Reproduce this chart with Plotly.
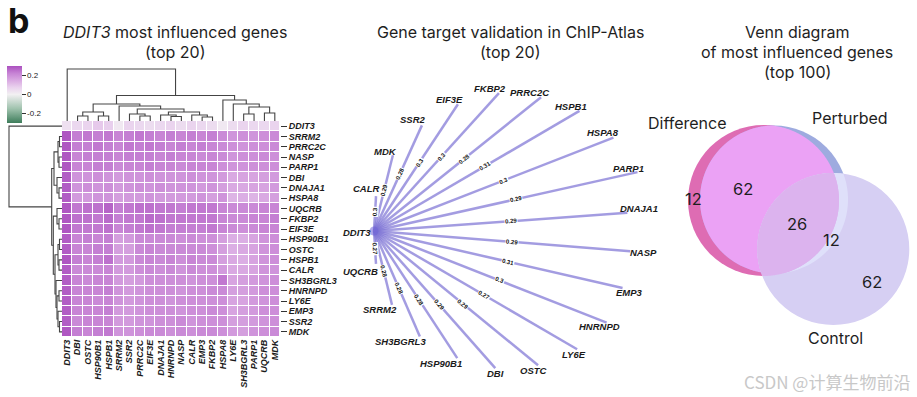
import math
import plotly.graph_objects as go

W, H = 917, 397

# ---------------- DATA ----------------
col_genes = ["DDIT3", "DBI", "OSTC", "HSP90B1", "HSPB1", "SRRM2", "SSR2", "PRRC2C", "EIF3E", "DNAJA1",
             "HNRNPD", "NASP", "CALR", "EMP3", "FKBP2", "HSPA8", "LY6E", "SH3BGRL3", "PARP1", "UQCRB", "MDK"]
row_genes = ["DDIT3", "SRRM2", "PRRC2C", "NASP", "PARP1", "DBI", "DNAJA1", "HSPA8", "UQCRB", "FKBP2",
             "EIF3E", "HSP90B1", "OSTC", "HSPB1", "CALR", "SH3BGRL3", "HNRNPD", "LY6E", "EMP3", "SSR2", "MDK"]

influence = [
    [0.04, 0.06, 0.07, 0.09, 0.08, 0.02, 0.07, 0.06, 0.05, 0.06, 0.07, 0.05, 0.07, 0.06, 0.05, 0.02, 0.05, 0.07, 0.06, 0.06, 0.07],
    [0.29, 0.23, 0.24, 0.23, 0.24, 0.22, 0.23, 0.24, 0.23, 0.22, 0.23, 0.22, 0.23, 0.22, 0.23, 0.21, 0.19, 0.20, 0.19, 0.20, 0.21],
    [0.29, 0.23, 0.23, 0.24, 0.23, 0.22, 0.24, 0.23, 0.24, 0.23, 0.22, 0.23, 0.22, 0.23, 0.22, 0.21, 0.20, 0.19, 0.20, 0.20, 0.21],
    [0.29, 0.22, 0.23, 0.23, 0.23, 0.22, 0.23, 0.23, 0.23, 0.22, 0.23, 0.22, 0.22, 0.21, 0.22, 0.21, 0.19, 0.20, 0.20, 0.21, 0.20],
    [0.29, 0.22, 0.22, 0.23, 0.23, 0.21, 0.22, 0.22, 0.23, 0.22, 0.22, 0.21, 0.22, 0.22, 0.22, 0.20, 0.19, 0.19, 0.20, 0.20, 0.20],
    [0.28, 0.19, 0.19, 0.20, 0.19, 0.18, 0.19, 0.19, 0.20, 0.19, 0.19, 0.19, 0.20, 0.19, 0.19, 0.18, 0.15, 0.16, 0.16, 0.17, 0.18],
    [0.28, 0.19, 0.20, 0.19, 0.20, 0.18, 0.19, 0.20, 0.19, 0.20, 0.19, 0.19, 0.19, 0.18, 0.19, 0.17, 0.15, 0.15, 0.16, 0.16, 0.18],
    [0.28, 0.18, 0.18, 0.19, 0.19, 0.17, 0.18, 0.18, 0.19, 0.18, 0.18, 0.18, 0.18, 0.19, 0.17, 0.19, 0.13, 0.14, 0.13, 0.15, 0.17],
    [0.29, 0.24, 0.25, 0.25, 0.27, 0.23, 0.24, 0.25, 0.25, 0.24, 0.24, 0.23, 0.24, 0.24, 0.24, 0.22, 0.21, 0.21, 0.21, 0.22, 0.22],
    [0.29, 0.25, 0.25, 0.24, 0.26, 0.23, 0.24, 0.24, 0.26, 0.25, 0.24, 0.24, 0.24, 0.24, 0.24, 0.22, 0.21, 0.21, 0.22, 0.22, 0.23],
    [0.29, 0.24, 0.24, 0.24, 0.25, 0.22, 0.23, 0.24, 0.25, 0.24, 0.23, 0.23, 0.23, 0.23, 0.24, 0.22, 0.21, 0.20, 0.21, 0.22, 0.22],
    [0.28, 0.22, 0.23, 0.22, 0.23, 0.17, 0.18, 0.21, 0.21, 0.21, 0.21, 0.20, 0.21, 0.20, 0.20, 0.17, 0.14, 0.14, 0.16, 0.19, 0.20],
    [0.28, 0.22, 0.22, 0.23, 0.23, 0.17, 0.17, 0.21, 0.22, 0.21, 0.21, 0.21, 0.21, 0.21, 0.20, 0.17, 0.14, 0.15, 0.16, 0.19, 0.20],
    [0.29, 0.23, 0.22, 0.23, 0.25, 0.18, 0.18, 0.21, 0.22, 0.21, 0.22, 0.20, 0.22, 0.21, 0.21, 0.17, 0.15, 0.14, 0.16, 0.19, 0.20],
    [0.28, 0.21, 0.21, 0.21, 0.22, 0.18, 0.18, 0.20, 0.21, 0.20, 0.21, 0.19, 0.21, 0.20, 0.20, 0.18, 0.15, 0.15, 0.16, 0.19, 0.19],
    [0.28, 0.22, 0.21, 0.22, 0.22, 0.18, 0.17, 0.18, 0.20, 0.20, 0.20, 0.20, 0.19, 0.20, 0.20, 0.24, 0.16, 0.17, 0.18, 0.19, 0.20],
    [0.28, 0.22, 0.22, 0.22, 0.23, 0.19, 0.18, 0.19, 0.20, 0.20, 0.20, 0.19, 0.20, 0.20, 0.21, 0.21, 0.17, 0.17, 0.18, 0.20, 0.20],
    [0.28, 0.22, 0.22, 0.21, 0.22, 0.19, 0.18, 0.19, 0.20, 0.20, 0.19, 0.20, 0.20, 0.20, 0.20, 0.20, 0.16, 0.16, 0.18, 0.19, 0.20],
    [0.28, 0.22, 0.22, 0.22, 0.23, 0.18, 0.18, 0.19, 0.20, 0.20, 0.20, 0.19, 0.20, 0.20, 0.21, 0.20, 0.16, 0.17, 0.18, 0.20, 0.20],
    [0.28, 0.21, 0.22, 0.22, 0.22, 0.18, 0.18, 0.19, 0.19, 0.20, 0.20, 0.21, 0.19, 0.20, 0.20, 0.20, 0.17, 0.17, 0.18, 0.19, 0.20],
    [0.29, 0.23, 0.22, 0.23, 0.24, 0.19, 0.19, 0.20, 0.21, 0.21, 0.20, 0.21, 0.20, 0.21, 0.21, 0.20, 0.18, 0.17, 0.19, 0.20, 0.21],
]

# dendrogram linkage trees: (height, left, right), leaves = positions
col_tree = (52, 0, (25.5, (17, (9, (5, 1, 2), (5, 3, 4)),
                               (15, 5, (12, (7, 6, (5, 7, 8)),
                                        (9, (6, 9, (4.5, 10, 11)), (6, 12, (4, 13, 14)))))),
                   (21, 15, (17, 16, (14, (7, 17, 18), (8, 19, 20))))))
row_tree = (53, 0, (10.3, (8, (4, (2.5, 1, 2), (3, 3, 4)), (5, 5, (3, 6, 7))),
                    (8.7, (5, 8, (3, 9, 10)),
                     (7, (4, (2.5, 11, 12), (3, 13, 14)),
                      (6, 15, (5, (3, 16, 17), (4, 18, (2.5, 19, 20))))))))

net_source = "DDIT3"
net_targets = ["UQCRB", "SRRM2", "SH3BGRL3", "HSP90B1", "DBI", "OSTC", "LY6E", "HNRNPD", "EMP3", "NASP",
               "DNAJA1", "PARP1", "HSPA8", "HSPB1", "PRRC2C", "FKBP2", "EIF3E", "SSR2", "MDK", "CALR"]
net_weights = [0.27, 0.28, 0.28, 0.28, 0.29, 0.29, 0.27, 0.3, 0.31, 0.29,
               0.29, 0.29, 0.3, 0.31, 0.28, 0.3, 0.3, 0.28, 0.29, 0.3]

venn_sets = ["Difference", "Perturbed", "Control"]
venn_regions = {"100": 12, "110": 62, "111": 26, "011": 12, "001": 62}

# ---------------- LAYOUT / STYLE ----------------
HM_X0, HM_X1, HM_Y0, HM_Y1 = 62, 280, 121, 337
def px_x(v): return v / W
def px_y(v): return 1 - v / H

# network layout (polar, pixels around centre)
net_center = (374, 231)
net_angle = [-86.5, -76.3, -66.5, -56.8, -48.5, -39.3, -30.2, -21.5, -12.9, -4.5,
             4.1, 12.6, 21.3, 30.3, 38.7, 47.8, 56.5, 65.6, 76.0, 86.7]
net_radius = [33, 76, 115, 152, 183, 212, 235, 250, 255, 257, 254, 270, 257, 238, 214, 186, 152, 116, 78, 35]
lab_dx = [-16, -12, -19, -16, 0, -5, -3, -7, 7, 13, 12, -9, -10, -8, -12, -9, -8, -9, -7, -10]
lab_dy = [8, 5, 5, 5, 5, 5, 5, 4, 5, 1, -4, -4, -5, -4, -5, -5, -5, -6, -4, -8]

# venn circles (pixels)
venn_circles = [(763.5, 200.5, 75.5), (774, 199.5, 74), (833.3, 249, 76)]
venn_colors = {"100": "#de6cb3", "010": "#9eabdf", "110": "#eba2f5", "001": "#d6cff3",
               "011": "#dfe0fa", "101": "#dcb3ee", "111": "#dcb3ee"}
venn_num_pos = {"100": (693, 199), "110": (743, 189), "111": (797, 224), "011": (831, 240), "001": (872, 282)}
venn_name_pos = [(687, 123), (850, 118), (835, 338)]

colorscale = [[0.0, "#3e7d5b"], [0.25, "#9fc2ad"], [0.5, "#f2f0f2"], [0.62, "#ead3ee"],
              [0.75, "#d9a9e2"], [0.87, "#c784d5"], [1.0, "#ab50bf"]]

fig = go.Figure()

# heatmap
fig.add_trace(go.Heatmap(
    z=influence, x=col_genes, y=row_genes, zmin=-0.3, zmax=0.3, colorscale=colorscale,
    xgap=1, ygap=1, hoverinfo="skip",
    colorbar=dict(x=px_x(7), xanchor="left", y=px_y(66), yanchor="top", len=57 / H, lenmode="fraction",
                  thickness=15, thicknessmode="pixels", tickvals=[-0.2, 0, 0.2], ticktext=["-0.2", "0", "0.2"],
                  ticks="outside", ticklen=4, tickcolor="#333", tickfont=dict(size=8, color="#222", family="Liberation Sans"),
                  outlinewidth=0, xpad=0, ypad=0)))

def dendro(node, segs):
    if isinstance(node, int):
        return float(node), 0.0
    h, a, b = node
    xa, ha = dendro(a, segs)
    xb, hb = dendro(b, segs)
    segs.append([(xa, ha), (xa, h), (xb, h), (xb, hb)])
    return (xa + xb) / 2, h

segs = []
dendro(col_tree, segs)
xs, ys = [], []
for s in segs:
    for p in s:
        xs.append(p[0]); ys.append(p[1])
    xs.append(None); ys.append(None)
fig.add_trace(go.Scatter(x=xs, y=ys, mode="lines", line=dict(color="#444", width=1.1),
                         xaxis="x2", yaxis="y2", hoverinfo="skip"))

segs = []
dendro(row_tree, segs)
xs, ys = [], []
for s in segs:
    for p in s:
        xs.append(p[1]); ys.append(p[0])
    xs.append(None); ys.append(None)
fig.add_trace(go.Scatter(x=xs, y=ys, mode="lines", line=dict(color="#444", width=1.1),
                         xaxis="x3", yaxis="y3", hoverinfo="skip"))

# network
cx, cy = net_center
ends = []
for a, r in zip(net_angle, net_radius):
    t = math.radians(a)
    ends.append((cx + r * math.cos(t), cy - r * math.sin(t)))
xs, ys = [], []
for (ex, ey) in ends:
    xs += [cx, ex, None]; ys += [cy, ey, None]
fig.add_trace(go.Scatter(x=xs, y=ys, mode="lines", line=dict(color="rgba(128,118,214,0.72)", width=2.5),
                         xaxis="x4", yaxis="y4", hoverinfo="skip"))
fig.add_trace(go.Scatter(x=[cx], y=[cy], mode="markers", marker=dict(size=9, color="rgba(110,98,215,0.55)"),
                         xaxis="x4", yaxis="y4", hoverinfo="skip"))

annotations = []
gene_font = dict(family="Liberation Sans", size=9.5, color="#1a1a1a", style="italic", weight="bold")
for g, w, a, (ex, ey), dx, dy in zip(net_targets, net_weights, net_angle, ends, lab_dx, lab_dy):
    annotations.append(dict(x=ex + dx, y=ey + dy, xref="x4", yref="y4", text=g, showarrow=False,
                            font=gene_font, xanchor="center", yanchor="middle"))
    f = 0.54
    annotations.append(dict(x=cx + f * (ex - cx), y=cy + f * (ey - cy), xref="x4", yref="y4",
                            text=f"{w:g}", showarrow=False, textangle=-a, bgcolor="white", borderpad=0,
                            font=dict(family="Liberation Sans", size=6, color="#111", weight="bold")))
annotations.append(dict(x=cx - 17, y=cy + 1, xref="x4", yref="y4", text=net_source, showarrow=False,
                        font=gene_font, xanchor="center", yanchor="middle"))

# venn regions
def inter_path(circles, n=720):
    pts = []
    for i, (ox, oy, r) in enumerate(circles):
        for k in range(n):
            t = 2 * math.pi * k / n
            x, y = ox + r * math.cos(t), oy + r * math.sin(t)
            ok = all((x - qx) ** 2 + (y - qy) ** 2 <= qr ** 2 + 1e-6
                     for j, (qx, qy, qr) in enumerate(circles) if j != i)
            if ok:
                pts.append((x, y))
    if not pts:
        return None
    mx = sum(p[0] for p in pts) / len(pts)
    my = sum(p[1] for p in pts) / len(pts)
    pts.sort(key=lambda p: math.atan2(p[1] - my, p[0] - mx))
    return "M " + " L ".join(f"{x:.2f},{y:.2f}" for x, y in pts) + " Z"

shapes = []
D, P, C = venn_circles
def circ(c, col):
    x, y, r = c
    return dict(type="circle", xref="x4", yref="y4", x0=x - r, x1=x + r, y0=y - r, y1=y + r,
                fillcolor=col, line=dict(width=0), layer="above")
def path(cs, col):
    p = inter_path(cs)
    return dict(type="path", xref="x4", yref="y4", path=p, fillcolor=col, line=dict(width=0), layer="above")
shapes.append(circ(D, venn_colors["100"]))
shapes.append(circ(P, venn_colors["010"]))
shapes.append(path([D, P], venn_colors["110"]))
shapes.append(circ(C, venn_colors["001"]))
shapes.append(path([P, C], venn_colors["011"]))
shapes.append(path([D, C], venn_colors["101"]))
shapes.append(path([D, P, C], venn_colors["111"]))

num_font = dict(family="Inter", size=16.5, color="#1e1e1e")
for key, cnt in venn_regions.items():
    x, y = venn_num_pos[key]
    annotations.append(dict(x=x, y=y, xref="x4", yref="y4", text=str(cnt), showarrow=False, font=num_font))
for name, (x, y) in zip(venn_sets, venn_name_pos):
    annotations.append(dict(x=x, y=y, xref="x4", yref="y4", text=name, showarrow=False,
                            font=dict(family="Inter", size=16, color="#1e1e1e")))

# titles
title_font = dict(family="Inter", size=16, color="#1e1e1e")
titles = [(175, 32, "<i>DDIT3</i> most influenced genes"), (175, 52, "(top 20)"),
          (510, 32, "Gene target validation in ChIP-Atlas"), (510, 52, "(top 20)"),
          (797, 32, "Venn diagram"), (797, 52, "of most influenced genes"), (797, 72, "(top 100)")]
for x, y, t in titles:
    annotations.append(dict(x=x, y=y, xref="x4", yref="y4", text=t, showarrow=False, font=title_font))
annotations.append(dict(x=18, y=20, xref="x4", yref="y4", text="<b>b</b>", showarrow=False,
                        font=dict(family="Inter", size=34, color="#111")))
annotations.append(dict(x=827, y=381, xref="x4", yref="y4", text="CSDN @计算生物前沿", showarrow=False,
                        font=dict(family="Noto Sans CJK SC", size=17, color="#c8c8c8")))

tick_font = dict(family="Liberation Sans", size=9, color="#1a1a1a", style="italic", weight="bold")
fig.update_layout(
    width=W, height=H, margin=dict(l=0, r=0, t=0, b=0), autosize=False,
    paper_bgcolor="white", plot_bgcolor="rgba(0,0,0,0)", showlegend=False,
    xaxis=dict(domain=[px_x(HM_X0), px_x(HM_X1)], anchor="y", tickangle=-90, tickfont=tick_font,
               tickmode="array", tickvals=col_genes, ticktext=col_genes,
               ticks="", showgrid=False, zeroline=False, showline=False),
    yaxis=dict(domain=[px_y(HM_Y1), px_y(HM_Y0)], anchor="x", side="right", autorange="reversed",
               tickmode="array", tickvals=row_genes, ticktext=row_genes,
               tickfont=tick_font, ticks="outside", ticklen=6, tickwidth=1.4, tickcolor="#333",
               showgrid=False, zeroline=False, showline=False),
    xaxis2=dict(domain=[px_x(HM_X0), px_x(HM_X1)], anchor="y2", range=[-0.5, 20.5], visible=False),
    yaxis2=dict(domain=[px_y(HM_Y0), px_y(HM_Y0 - 55)], anchor="x2", range=[0, 55], visible=False),
    xaxis3=dict(domain=[px_x(8), px_x(HM_X0)], anchor="y3", range=[HM_X0 - 8, 0], visible=False),
    yaxis3=dict(domain=[px_y(HM_Y1), px_y(HM_Y0)], anchor="x3", range=[20.5, -0.5], visible=False),
    xaxis4=dict(domain=[0, 1], anchor="y4", range=[0, W], visible=False),
    yaxis4=dict(domain=[0, 1], anchor="x4", range=[H, 0], visible=False),
    shapes=shapes, annotations=annotations,
)

fig.write_html("out.html", config={"displayModeBar": False},
               post_script="document.body.style.margin='0';")
